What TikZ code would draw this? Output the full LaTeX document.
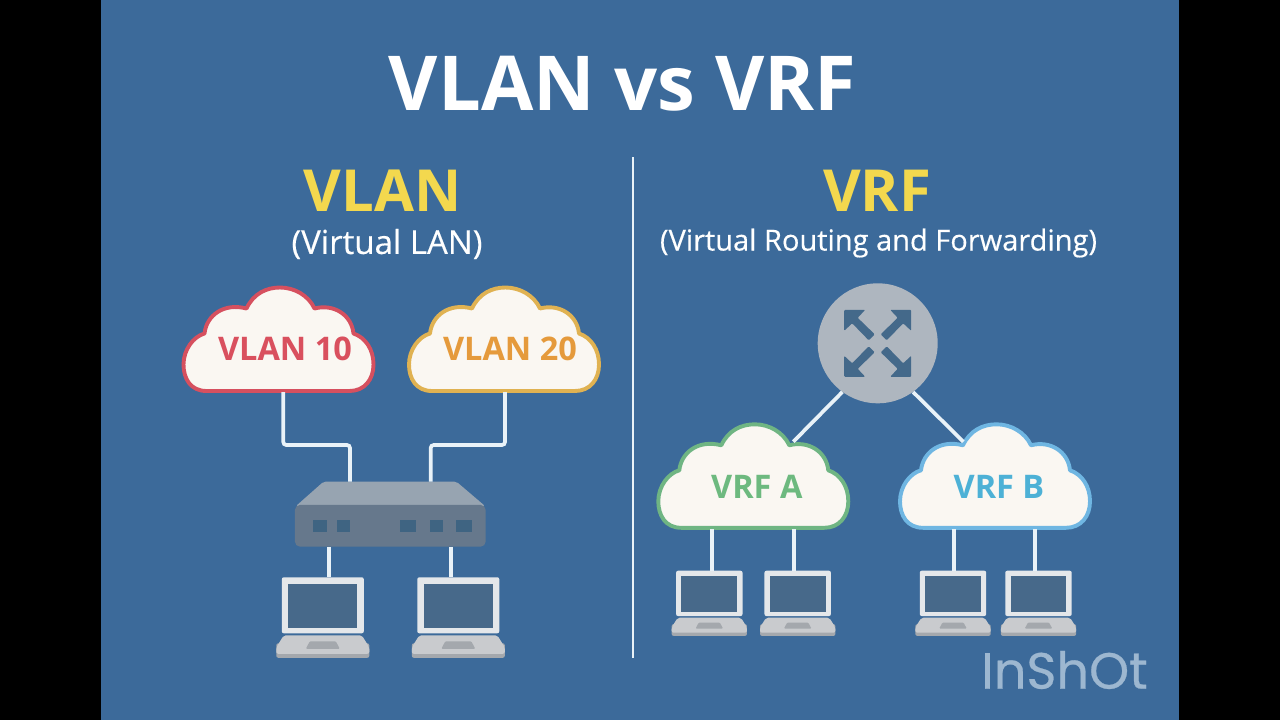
\documentclass[tikz,border=0pt]{standalone}
\usepackage{fontspec}
\setmainfont{Open Sans}
\newfontfamily\wmfont[FakeBold=0.5]{Poppins}
\newfontfamily\subfont[FakeBold=0.35]{Open Sans}
\usetikzlibrary{calc}
\definecolor{panelblue}{HTML}{3C6A9A}
\definecolor{headyellow}{HTML}{F3D84E}
\definecolor{cloudfill}{HTML}{FAF7F2}
\definecolor{wirewhite}{HTML}{E9F2F8}
\definecolor{redc}{HTML}{D6505F}
\definecolor{redt}{HTML}{D9505E}
\definecolor{orangec}{HTML}{E0B252}
\definecolor{oranget}{HTML}{E59A3C}
\definecolor{greenc}{HTML}{6FB583}
\definecolor{greent}{HTML}{6DB97F}
\definecolor{bluec}{HTML}{6FB6E2}
\definecolor{bluet}{HTML}{4DB1D6}
\definecolor{swbody}{HTML}{66788C}
\definecolor{swtop}{HTML}{97A4B1}
\definecolor{swport}{HTML}{3F6482}
\definecolor{screenc}{HTML}{47698A}
\definecolor{framec}{HTML}{E4E7EA}
\definecolor{basec}{HTML}{C9CBCE}
\definecolor{basedark}{HTML}{A4A8AD}
\definecolor{routerc}{HTML}{AEB6BF}
\definecolor{arrowc}{HTML}{44698A}
\definecolor{wmark}{HTML}{9DB7D0}
\tikzset{
  x=1pt,y=-1pt,
  wire/.style={draw=wirewhite,line width=3.7pt,rounded corners=3pt},
  cloudshape/.style={fill=cloudfill,line width=3.9pt,line join=round},
  cloudbox/.style={inner sep=0pt,minimum width=191pt,minimum height=105pt},
  cloudtext/.style={font=\fontsize{32.5}{36}\selectfont\bfseries,inner sep=0pt},
  head/.style={font=\fontsize{58}{62}\selectfont\bfseries,text=headyellow,inner sep=0pt},
  sub/.style={font=\subfont\fontsize{29}{33}\selectfont,text=white,inner sep=0pt},
  port/.style={fill=swport},
}
% name, cx, cy, border, text colour, text, text dx, text dy
\newcommand\cloudat[8]{%
  \begin{scope}[shift={(#2,#3)}]
    \draw[cloudshape,draw=#4] (-72,51.5) .. controls (-88,51.5) and (-95,39) .. (-95,25)
      .. controls (-95,10) and (-85,-3) .. (-74,-6)
      .. controls (-72,-24) and (-55,-37) .. (-32,-31)
      .. controls (-25,-46) and (-12,-52) .. (1.5,-52)
      .. controls (16,-52) and (30,-44) .. (36,-31)
      .. controls (55,-36) and (73,-25) .. (75,-6)
      .. controls (87,-2) and (95,10) .. (95,25)
      .. controls (95,40) and (86,51.5) .. (71,51.5) -- cycle;
  \end{scope}
  \node[cloudbox] (#1) at (#2,#3) {};
  \node[cloudtext,text=#5] (#1-label) at ($(#2,#3)+(#7,#8)$) {#6};
}
% name, cx, top y, scale
\newcommand\laptopat[4]{%
  \begin{scope}[shift={(#2,#3)},scale=#4]
    \fill[basedark,rounded corners=2pt] (-46.5,66) -- (46.5,66) -- (46.5,80.5) -- (-46.5,80.5) -- cycle;
    \fill[basec,rounded corners=2pt] (-39,58) -- (39,58) -- (46.5,70) -- (46.5,76.5) -- (-46.5,76.5) -- (-46.5,70) -- cycle;
    \fill[basedark,rounded corners=1pt] (-13,64) -- (13,64) -- (17,71.5) -- (-17,71.5) -- cycle;
    \fill[framec,rounded corners=2pt] (-41,0) rectangle (41,56);
    \fill[screenc] (-34.5,6.7) rectangle (34.5,50.5);
  \end{scope}
  \node[inner sep=0pt,minimum width=#4*82pt,minimum height=#4*56pt,anchor=north] (#1) at (#2,#3) {};
}
\begin{document}
\begin{tikzpicture}
\useasboundingbox (0,0) rectangle (1280,720);
\fill[black] (0,0) rectangle (1280,720);
\fill[panelblue] (101,0) rectangle (1179,720);

\node[font=\fontsize{75.8}{80}\selectfont\bfseries,text=white,inner sep=0pt] (title) at (622.5,84) {VLAN vs VRF};
\node[head] (vlanhead) at (382.5,191) {VLAN};
\node[head] (vrfhead) at (877,191) {VRF};
\node[font=\subfont\fontsize{33}{37}\selectfont,text=white,inner sep=0pt] (vlansub) at (387,244) {(Virtual LAN)};
\node[sub] (vrfsub) at (878.5,243) {(Virtual Routing and Forwarding)};
\node[inner sep=0pt,minimum width=2.6pt,minimum height=501pt,fill=wirewhite] (divider) at (633,407.5) {};

% left side
\cloudat{vlan10}{278.5}{339.5}{redc}{redt}{VLAN 10}{6.5}{9}
\cloudat{vlan20}{504}{339.5}{orangec}{oranget}{VLAN 20}{6}{9}

\fill[swtop,rounded corners=2pt] (296,506) -- (323.5,481.7) -- (456.5,481.7) -- (485,506) -- cycle;
\node[inner sep=0pt,minimum width=190.7pt,minimum height=41.7pt,fill=swbody,rounded corners=5pt] (swbox) at (390.3,525.8) {};
\node[inner sep=0pt,minimum width=190pt,minimum height=65pt] (swhole) at (390.3,514.2) {};
\fill[port] (313.3,520) rectangle (327.3,531.7);
\fill[port] (336.7,520) rectangle (350,531.7);
\fill[port] (400,520) rectangle (416,531.7);
\fill[port] (430,520) rectangle (443.3,531.7);
\fill[port] (455.7,520) rectangle (471.7,531.7);

\path ($(vlan10.south)+(4.8,0)$) coordinate (a1) ($(swhole.north)+(-40.3,0)$) coordinate (a2);
\path ($(vlan20.south)+(1,0)$) coordinate (b1) ($(swhole.north)+(40.4,0)$) coordinate (b2);
\coordinate (a3) at (283.3,445);
\coordinate (b3) at (505,445);
\draw[wire] (a1) -- (a3) -- (a3 -| a2) -- (a2);
\draw[wire] (b1) -- (b3) -- (b3 -| b2) -- (b2);

\laptopat{lap1}{322.8}{577.3}{1}
\laptopat{lap2}{458.3}{577.3}{1}
\path ($(swbox.south)+(-61,0)$) coordinate (s1) ($(swbox.south)+(60.4,0)$) coordinate (s2);
\draw[wire] (s1) -- (s1 |- lap1.north);
\draw[wire] (s2) -- (s2 |- lap2.north);

% right side
\node[circle,inner sep=0pt,minimum size=120pt,fill=routerc] (router) at (877.7,343.3) {};
\foreach \r in {0,90,180,270}{
  \begin{scope}[shift={(router.center)},rotate=\r]
    \fill[arrowc,rounded corners=1pt] (-33.5,-33.5) -- (-12.5,-33.5) -- (-20,-25.5) -- (-3,-9) -- (-9,-3) -- (-25.5,-20) -- (-33.5,-12.5) -- cycle;
  \end{scope}
}
\cloudat{vrfa}{753.3}{476.3}{greenc}{greent}{VRF A}{3.5}{11}
\cloudat{vrfb}{995}{476.3}{bluec}{bluet}{VRF B}{4}{11}
\coordinate (ra) at (793.3,441.7);
\coordinate (rb) at (963.3,441.7);
\draw[wire] (router.234) -- (ra);
\draw[wire] (router.306) -- (rb);

\laptopat{lap3}{709.3}{570.7}{0.81}
\laptopat{lap4}{797.7}{570.7}{0.81}
\laptopat{lap5}{953}{570.7}{0.81}
\laptopat{lap6}{1038.5}{570.7}{0.81}
\path ($(vrfa.south)+(-41,0)$) coordinate (c1) ($(vrfa.south)+(40.7,0)$) coordinate (c2);
\path ($(vrfb.south)+(-41.3,0)$) coordinate (c3) ($(vrfb.south)+(40.3,0)$) coordinate (c4);
\draw[wire] (c1) -- (c1 |- lap3.north);
\draw[wire] (c2) -- (c2 |- lap4.north);
\draw[wire] (c3) -- (c3 |- lap5.north);
\draw[wire] (c4) -- (c4 |- lap6.north);

\node[font=\wmfont\fontsize{51}{55}\selectfont,text=wmark,inner sep=0pt] (watermark) at (1064.5,670) {InShOt};
\end{tikzpicture}
\end{document}
